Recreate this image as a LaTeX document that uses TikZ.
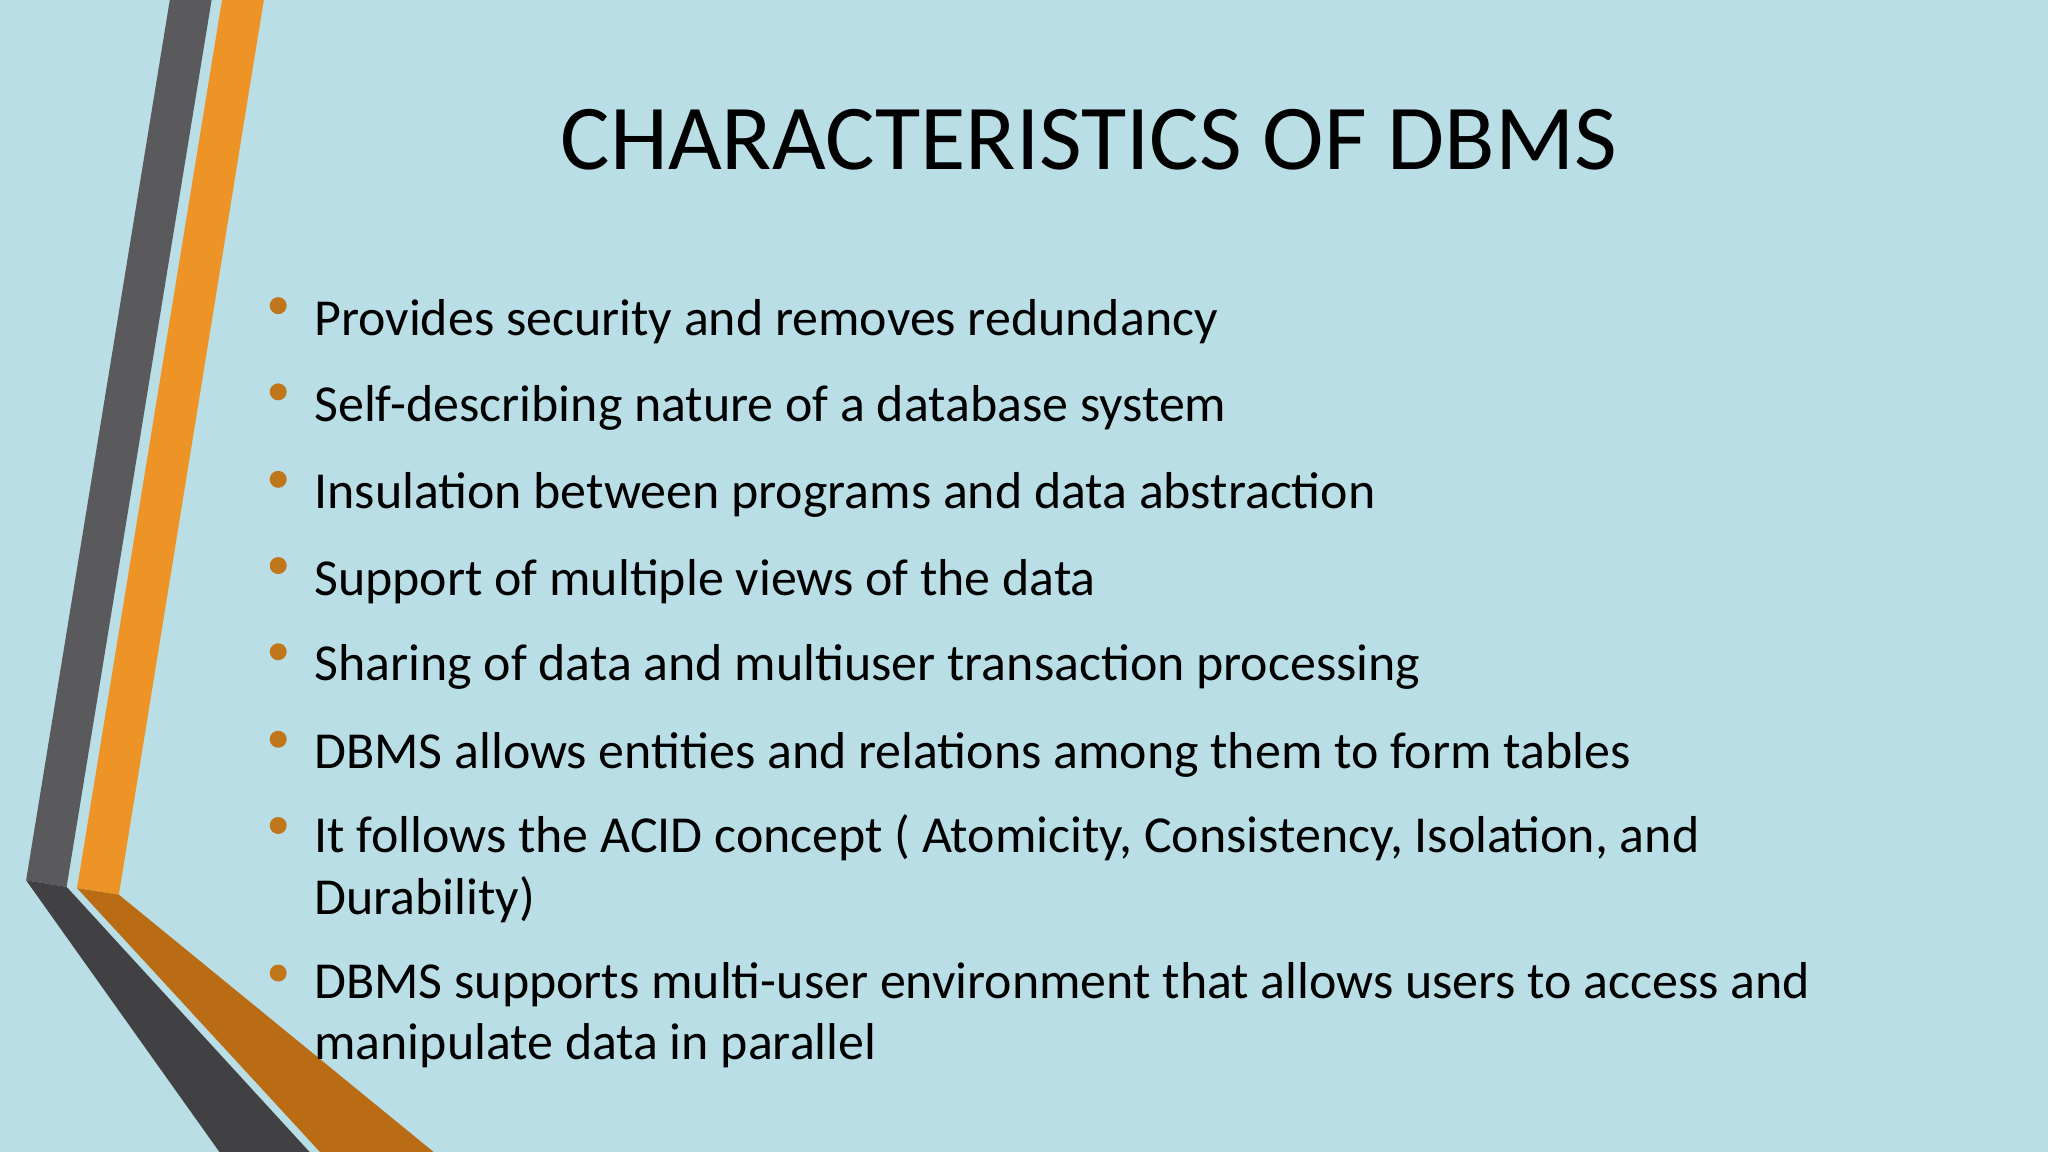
\documentclass[tikz,border=0pt]{standalone}
\usepackage{fontspec}
\setmainfont{Carlito}
\definecolor{bg}{HTML}{B9DEE5}
\definecolor{gup}{HTML}{5A595B}
\definecolor{gdn}{HTML}{414042}
\definecolor{oup}{HTML}{EE9427}
\definecolor{odn}{HTML}{B96C14}
\definecolor{bul}{HTML}{C0771C}
\begin{document}
\begin{tikzpicture}[x=0.01cm,y=-0.01cm,
  item/.style={anchor=west,font=\fontsize{11.3}{13.4}\selectfont,align=left,inner sep=0pt},
  dot/.style={circle,fill=bul,minimum size=0.13cm,inner sep=0pt}]
\fill[bg] (0,0) rectangle (1568,882);
\useasboundingbox (0,0) rectangle (1568,882);
\fill[gup] (130,0) -- (162,0) -- (51,679) -- (20,674) -- cycle;
\fill[oup] (170,0) -- (202,0) -- (91,685) -- (59,680) -- cycle;
\fill[gdn] (20,674) -- (51,679) -- (237,882) -- (168,882) -- cycle;
\fill[odn] (59,680) -- (91,685) -- (332,882) -- (245,882) -- cycle;
\node (title) at (834,107) {\fontsize{20.2}{23}\selectfont CHARACTERISTICS OF DBMS};
\foreach \i/\y/\t in {1/246/Provides security and removes redundancy,
  2/312/Self-describing nature of a database system,
  3/379/Insulation between programs and data abstraction,
  4/445/Support of multiple views of the data,
  5/511/Sharing of data and multiuser transaction processing,
  6/578/DBMS allows entities and relations among them to form tables}{
  \node[item] (t\i) at (240,\y) {\t};
  \node[dot] (b\i) at (213,\y-12) {};
}
\node[item,anchor=north west] (t7) at (240,623) {It follows the ACID concept ( Atomicity, Consistency, Isolation, and\\Durability)};
\node[dot] (b7) at (213,632) {};
\node[item,anchor=north west] (t8) at (240,736) {DBMS supports multi-user environment that allows users to access and\\manipulate data in parallel};
\node[dot] (b8) at (213,745) {};
\end{tikzpicture}
\end{document}
